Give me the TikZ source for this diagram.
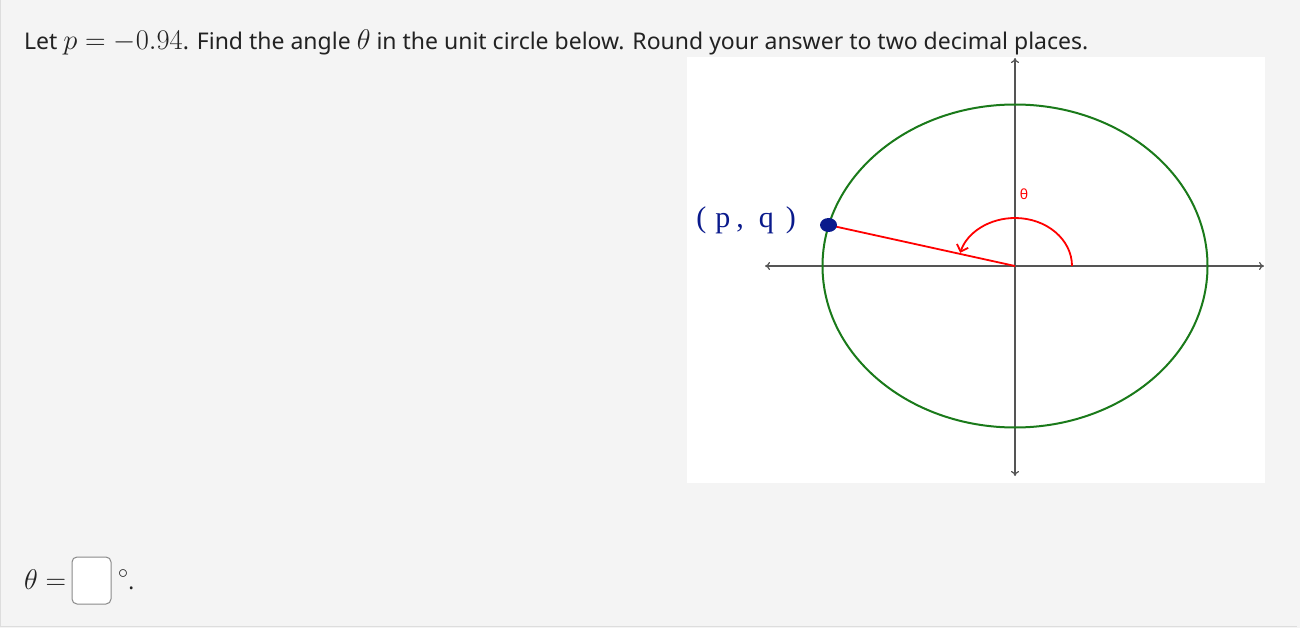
\RequirePackage{fix-cm}
\documentclass[tikz,border=0pt]{standalone}
\usepackage{fontspec}
\setmainfont{Noto Sans}
\newfontfamily\pqfont{Liberation Serif}
\usetikzlibrary{arrows.meta}
\definecolor{bg}{HTML}{F4F4F4}
\definecolor{panelborder}{HTML}{DDDDDD}
\definecolor{circgreen}{HTML}{1A7A1A}
\definecolor{axisgray}{HTML}{555555}
\definecolor{navy}{HTML}{0A1A8C}
\definecolor{boxborder}{HTML}{8A8A8A}
\definecolor{txt}{HTML}{222222}
\newcommand\qmath[1]{{\fontsize{28.5}{34}\selectfont$#1$}}
\tikzset{
  axis/.style={draw=axisgray, line width=1.2pt, -{To[length=5pt,width=8pt]}},
  label/.style={inner sep=0pt, outer sep=0pt, text=txt},
}
\begin{document}
\begin{tikzpicture}[x=1pt,y=-1pt]
\useasboundingbox (0,0) rectangle (1300,628);
\fill[bg] (0,0) rectangle (1300,628);
\draw[panelborder, line width=1pt] (0.5,-2) -- (0.5,626.5) -- (1297,626.5);
% white figure area
\fill[white] (687,57) rectangle (1265,483);
% axes
\coordinate (O) at (1015,266);
\coordinate (xl) at (765,266);
\coordinate (xr) at (1264,266);
\coordinate (yt) at (1015,58);
\coordinate (yb) at (1015,476);
\draw[axis] (O) -- (xl);
\draw[axis] (O) -- (xr);
\draw[axis] (O) -- (yt);
\draw[axis] (O) -- (yb);
% circle
\draw[circgreen, line width=2pt] (O) ellipse [x radius=192.5, y radius=161.5];
% angle arc
\draw[red, line width=1.8pt, -{Straight Barb[length=6pt,width=12pt]}] (1072,266) arc[start angle=0, end angle=-164, x radius=57, y radius=48];
\node[label, text=red, font=\fontsize{14}{16}\selectfont] (th) at (1024,194) {θ};
% radius
\coordinate (P) at (828.5,225);
\draw[red, line width=1.8pt] (O) -- (P);
\fill[navy] (P) ellipse [x radius=8.5, y radius=7];
\node[label, text=navy, font=\pqfont\fontsize{30}{34}\selectfont] (pq) at (746,220) {(\hspace{9pt}p\hspace{6pt},\hspace{15pt}q\hspace{12pt})};
% title
\node[label, anchor=base west, font=\fontsize{23}{27}\selectfont] (title) at (24,50) {Let \qmath{p=-0.94}. Find the angle \qmath{\theta} in the unit circle below. Round your answer to two decimal places.};
% answer
\node[label, anchor=base west, font=\fontsize{22}{26}\selectfont] (ans) at (24,589) {\qmath{\theta=}};
\node[draw=boxborder, fill=white, rounded corners=5pt, line width=1pt, minimum width=39pt, minimum height=47pt, inner sep=0pt] (box) at (91.5,580.5) {};
\node[label, anchor=base west, font=\fontsize{22}{26}\selectfont] (deg) at (118,589) {\qmath{^\circ}.};
\end{tikzpicture}
\end{document}
